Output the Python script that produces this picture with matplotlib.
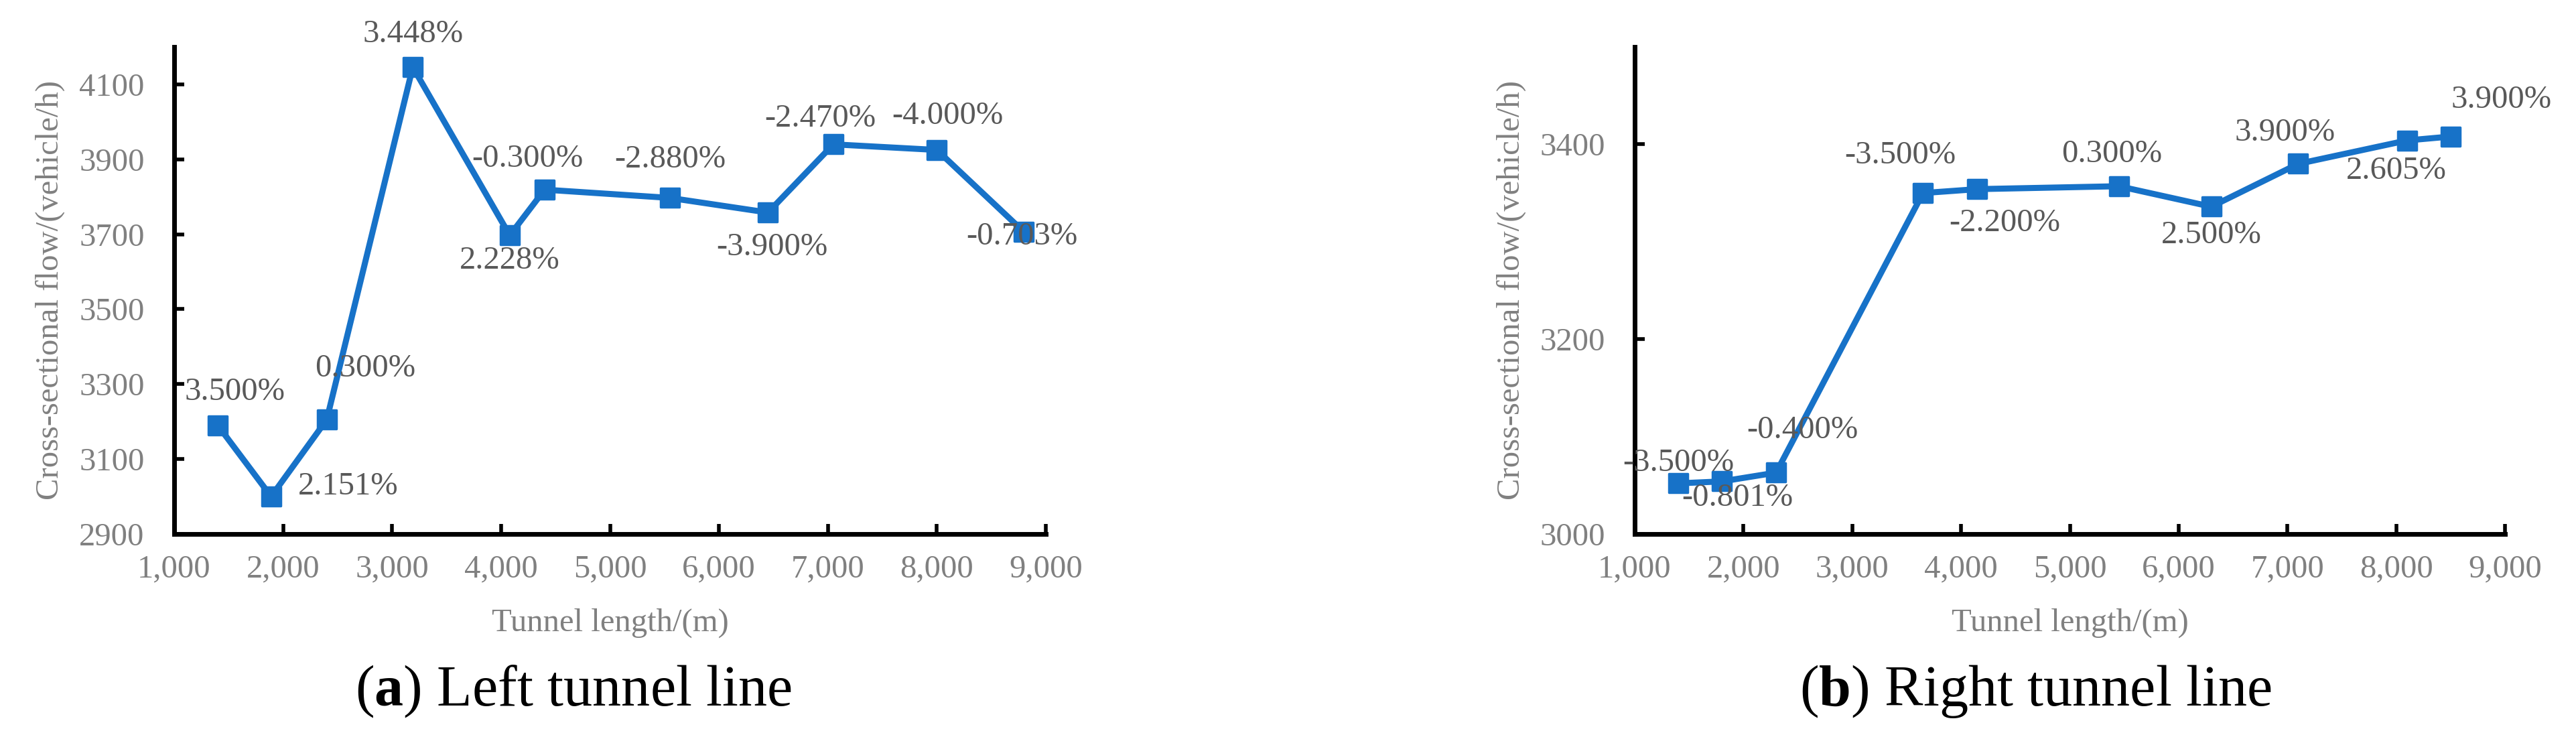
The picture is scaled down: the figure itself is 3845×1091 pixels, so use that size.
import matplotlib
matplotlib.use("Agg")
import matplotlib.pyplot as plt
from matplotlib.markers import MarkerStyle
from matplotlib.ticker import FuncFormatter

plt.rcParams['font.family'] = ['Liberation Serif', 'DejaVu Serif']
plt.rcParams['mathtext.fontset'] = 'custom'
plt.rcParams['mathtext.rm'] = 'Liberation Serif'
plt.rcParams['mathtext.bf'] = 'Liberation Serif:bold'

# left tunnel line
left_x = [1400, 1890, 2400, 3190, 4080, 4400, 5550, 6450, 7050, 8000, 8800]
left_y = [3190, 3000, 3205, 4146, 3697, 3819, 3797, 3758, 3940, 3925, 3706]
left_lbl = ['3.500%', '2.151%', '0.300%', '3.448%', '2.228%', '-0.300%',
            '-2.880%', '-3.900%', '-2.470%', '-4.000%', '-0.703%']
# label offsets in pixels (dx, dy), y down
left_off = [(25, -50), (115, -15), (58, -76), (0, -49), (0, 38), (-26, -46),
            (0, -57), (6, 52), (-20, -38), (16, -51), (-3, 7)]

# right tunnel line
right_x = [1400, 1800, 2300, 3650, 4150, 5450, 6300, 7100, 8100, 8500]
right_y = [3052, 3054, 3063, 3350, 3354, 3357, 3336, 3380, 3404, 3408]
right_lbl = ['-3.500%', '-0.801%', '-0.400%', '-3.500%', '-2.200%', '0.300%',
             '2.500%', '3.900%', '2.605%', '3.900%']
right_off = [(0, -30), (23, 25), (39, -63), (-34, -56), (41, 51), (-10, -48),
             (0, 43), (-20, -46), (-16, 45), (76, -55)]

BLUE = '#1772C8'
TICK_GRAY = '#808080'
LBL_GRAY = '#595959'
FS = 35

fig = plt.figure(figsize=(38.45, 10.91), dpi=100)
W, H = 3845, 1091


def draw(ax, xs, ys, labels, offs, ylim, yticks):
    m = MarkerStyle('s', joinstyle='round')
    ax.plot(xs, ys, color=BLUE, lw=6.5, marker=m, ms=20,
            mfc=BLUE, mec=BLUE, mew=2.5, solid_joinstyle='round')
    for x, y, t, (dx, dy) in zip(xs, ys, labels, offs):
        ax.annotate(t, (x, y), xytext=(dx * 0.72, -dy * 0.72),
                    textcoords='offset points', ha='center', va='center',
                    fontsize=FS, color=LBL_GRAY)
    ax.set_xlim(1000, 9000)
    ax.set_ylim(*ylim)
    ax.set_xticks(range(1000, 9001, 1000))
    ax.set_yticks(yticks)
    ax.xaxis.set_major_formatter(FuncFormatter(lambda v, p: f'{int(v):,}'))
    for s in ['top', 'right']:
        ax.spines[s].set_visible(False)
    for s in ['left', 'bottom']:
        ax.spines[s].set_linewidth(5)
        ax.spines[s].set_color('black')
    ax.tick_params(axis='both', direction='in', length=11, width=4,
                   colors='black', labelcolor=TICK_GRAY, labelsize=FS)
    ax.tick_params(axis='y', pad=32)
    ax.tick_params(axis='x', pad=22)
    ax.set_xlabel('Tunnel length/(m)', fontsize=FS, color=TICK_GRAY)
    ax.set_ylabel('Cross-sectional flow/(vehicle/h)', fontsize=FS, color=TICK_GRAY)
    ax.xaxis.set_label_coords(0.5, -0.183)
    ax.xaxis.label.set_va('center')
    ax.yaxis.set_label_coords(-0.142, 0.5)
    ax.yaxis.label.set_va('center')


ax1 = fig.add_axes([260 / W, 1 - 797 / H, 1301 / W, 727 / H])
draw(ax1, left_x, left_y, left_lbl, left_off, (2900, 4200), range(2900, 4101, 200))

ax2 = fig.add_axes([2440 / W, 1 - 797 / H, 1299 / W, 727 / H])
draw(ax2, right_x, right_y, right_lbl, right_off, (3000, 3500), [3000, 3200, 3400])

fig.text(856 / W, 1 - 1053 / H, r'($\mathbf{a}$) Left tunnel line',
         ha='center', va='baseline', fontsize=62, color='black')
fig.text(3038 / W, 1 - 1053 / H, r'($\mathbf{b}$) Right tunnel line',
         ha='center', va='baseline', fontsize=62, color='black')

fig.savefig('out.png', dpi=100)
